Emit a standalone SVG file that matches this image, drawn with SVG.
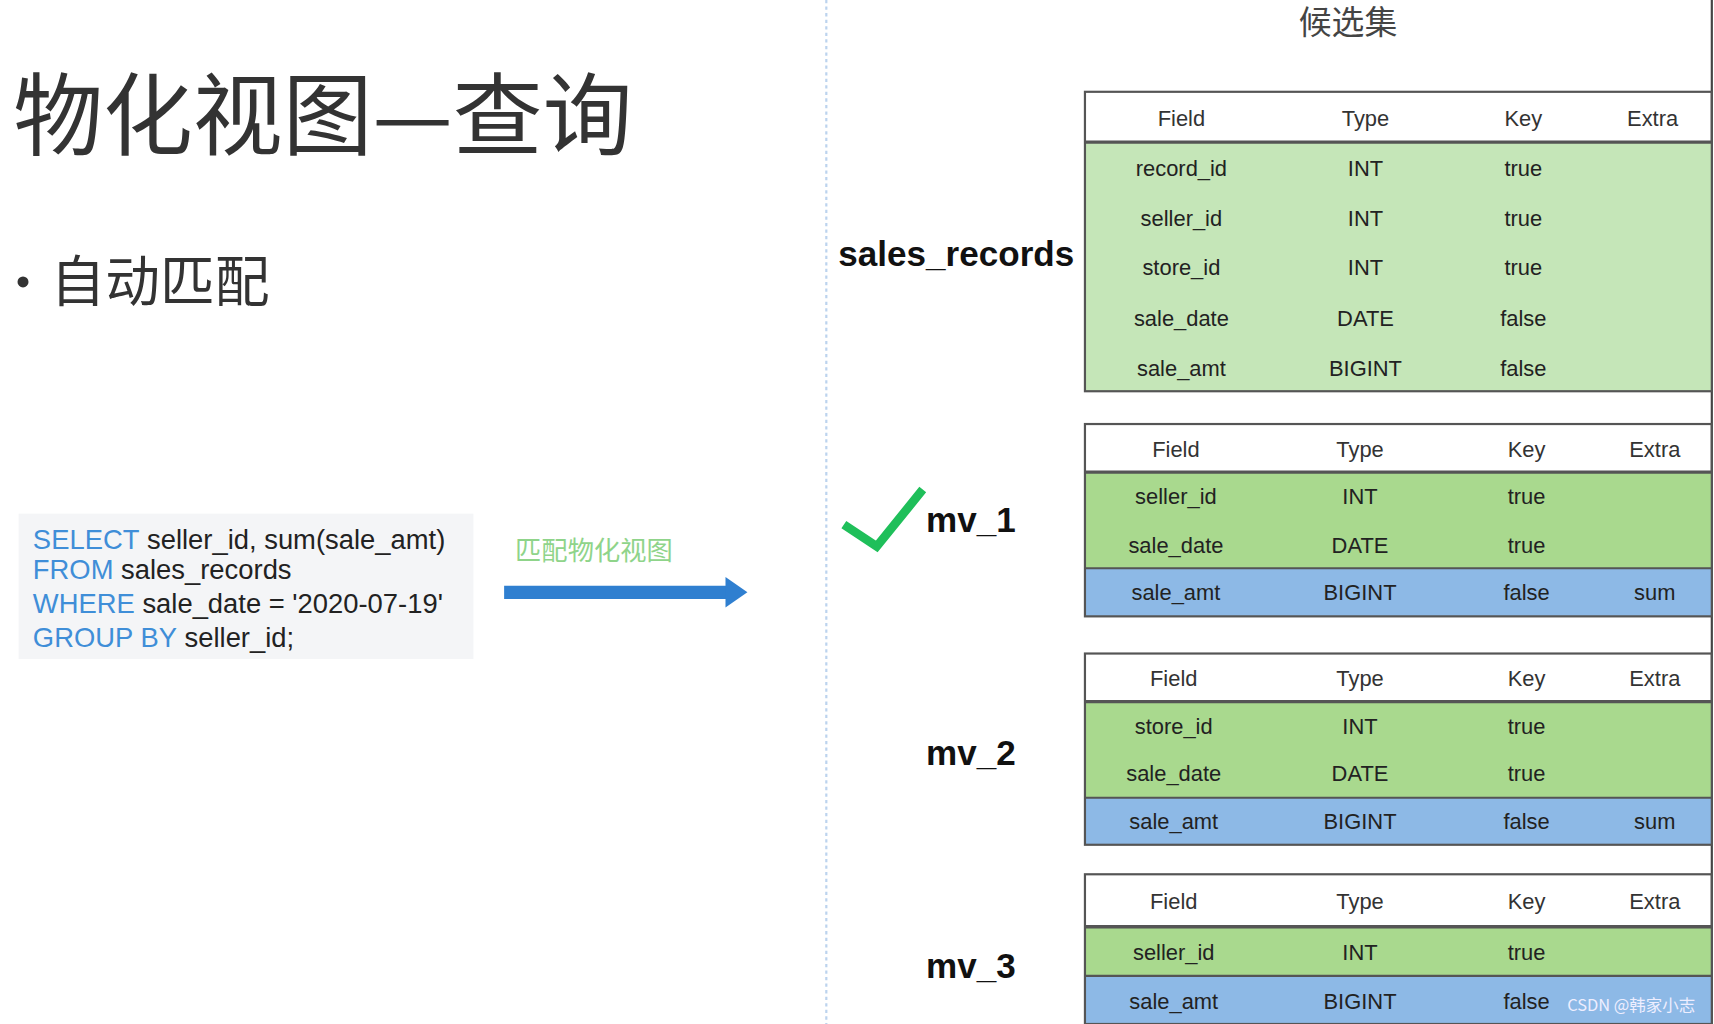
<svg xmlns="http://www.w3.org/2000/svg" width="1714" height="1024" viewBox="0 0 1714 1024">
<style>
.t{font-family:"Liberation Sans",Arial,sans-serif;font-size:20px;fill:#222;text-anchor:middle}
.h{font-family:"Liberation Sans",Arial,sans-serif;font-size:20px;fill:#333;text-anchor:middle}
.lbl{font-family:"Liberation Sans",Arial,sans-serif;font-weight:bold;font-size:32px;fill:#111}
.code{font-family:"Liberation Sans",Arial,sans-serif;font-size:25px;fill:#222}
.kw{fill:#3f8ed8}
.cjk{font-family:"Noto Sans CJK SC",sans-serif}
.bd{fill:none;stroke:#555;stroke-width:2}
</style>
<rect width="1714" height="1024" fill="#fff"/>
<g transform="scale(1.09591 1.09285)">
<g id="title"><text x="12" y="135" class="cjk" font-size="82" fill="#333">物化视图—查询</text></g>
<g id="bullet"><circle cx="21" cy="258" r="5" fill="#333"/><text x="46" y="275" class="cjk" font-size="50" fill="#333">自动匹配</text></g>
<g id="query">
<rect x="17" y="470" width="415" height="133" fill="#f4f5f7"/>
<text x="30" y="502" class="code"><tspan class="kw">SELECT</tspan> seller_id, sum(sale_amt)</text>
<text x="30" y="530" class="code"><tspan class="kw">FROM</tspan> sales_records</text>
<text x="30" y="561" class="code"><tspan class="kw">WHERE</tspan> sale_date = '2020-07-19'</text>
<text x="30" y="592" class="code"><tspan class="kw">GROUP BY</tspan> seller_id;</text>
</g>
<g id="connectors">
<text x="470" y="512" class="cjk" font-size="24" fill="#8fd48a">匹配物化视图</text>
<path d="M460 542 H664" stroke="#2f7fd0" stroke-width="12"/>
<path d="M662 528 L682 542 L662 556 Z" fill="#2f7fd0"/>
</g>
<line x1="754" y1="0" x2="754" y2="937" stroke="#bcd3ee" stroke-width="2" stroke-dasharray="3 3"/>
<line x1="1562" y1="0" x2="1562" y2="937" stroke="#444" stroke-width="2"/>
<g id="candidates"><text x="1230" y="31" class="cjk" font-size="30" fill="#444" text-anchor="middle">候选集</text></g>
<g id="sales_records">
<text x="765" y="243" class="lbl">sales_records</text>
<rect x="990" y="130" width="572" height="228" fill="#c5e6b8"/>
<rect x="990" y="84" width="572" height="274" class="bd"/>
<line x1="990" y1="130" x2="1562" y2="130" stroke="#555" stroke-width="3"/>
<text x="1078" y="115" class="h">Field</text><text x="1246" y="115" class="h">Type</text><text x="1390" y="115" class="h">Key</text><text x="1508" y="115" class="h">Extra</text>
<text x="1078" y="161" class="t">record_id</text><text x="1246" y="161" class="t">INT</text><text x="1390" y="161" class="t">true</text>
<text x="1078" y="207" class="t">seller_id</text><text x="1246" y="207" class="t">INT</text><text x="1390" y="207" class="t">true</text>
<text x="1078" y="252" class="t">store_id</text><text x="1246" y="252" class="t">INT</text><text x="1390" y="252" class="t">true</text>
<text x="1078" y="298" class="t">sale_date</text><text x="1246" y="298" class="t">DATE</text><text x="1390" y="298" class="t">false</text>
<text x="1078" y="344" class="t">sale_amt</text><text x="1246" y="344" class="t">BIGINT</text><text x="1390" y="344" class="t">false</text>
</g>
<g id="mv_1">
<path d="M770 480 L800 500 L842 448" fill="none" stroke="#1fbf5a" stroke-width="8"/>
<text x="845" y="487" class="lbl">mv_1</text>
<rect x="990" y="432" width="572" height="88" fill="#a9d98e"/>
<rect x="990" y="520" width="572" height="44" fill="#8db9e6"/>
<rect x="990" y="388" width="572" height="176" class="bd"/>
<line x1="990" y1="432" x2="1562" y2="432" stroke="#555" stroke-width="3"/>
<line x1="990" y1="520" x2="1562" y2="520" stroke="#555" stroke-width="2"/>
<text x="1073" y="418" class="h">Field</text><text x="1241" y="418" class="h">Type</text><text x="1393" y="418" class="h">Key</text><text x="1510" y="418" class="h">Extra</text>
<text x="1073" y="461" class="t">seller_id</text><text x="1241" y="461" class="t">INT</text><text x="1393" y="461" class="t">true</text>
<text x="1073" y="506" class="t">sale_date</text><text x="1241" y="506" class="t">DATE</text><text x="1393" y="506" class="t">true</text>
<text x="1073" y="549" class="t">sale_amt</text><text x="1241" y="549" class="t">BIGINT</text><text x="1393" y="549" class="t">false</text><text x="1510" y="549" class="t">sum</text>
</g>
<g id="mv_2">
<text x="845" y="700" class="lbl">mv_2</text>
<rect x="990" y="642" width="572" height="88" fill="#a9d98e"/>
<rect x="990" y="730" width="572" height="43" fill="#8db9e6"/>
<rect x="990" y="598" width="572" height="175" class="bd"/>
<line x1="990" y1="642" x2="1562" y2="642" stroke="#555" stroke-width="3"/>
<line x1="990" y1="730" x2="1562" y2="730" stroke="#555" stroke-width="2"/>
<text x="1071" y="628" class="h">Field</text><text x="1241" y="628" class="h">Type</text><text x="1393" y="628" class="h">Key</text><text x="1510" y="628" class="h">Extra</text>
<text x="1071" y="672" class="t">store_id</text><text x="1241" y="672" class="t">INT</text><text x="1393" y="672" class="t">true</text>
<text x="1071" y="715" class="t">sale_date</text><text x="1241" y="715" class="t">DATE</text><text x="1393" y="715" class="t">true</text>
<text x="1071" y="759" class="t">sale_amt</text><text x="1241" y="759" class="t">BIGINT</text><text x="1393" y="759" class="t">false</text><text x="1510" y="759" class="t">sum</text>
</g>
<g id="mv_3">
<text x="845" y="895" class="lbl">mv_3</text>
<rect x="990" y="848" width="572" height="45" fill="#a9d98e"/>
<rect x="990" y="893" width="572" height="44" fill="#8db9e6"/>
<rect x="990" y="800" width="572" height="137" class="bd"/>
<line x1="990" y1="848" x2="1562" y2="848" stroke="#555" stroke-width="3"/>
<line x1="990" y1="893" x2="1562" y2="893" stroke="#555" stroke-width="2"/>
<text x="1071" y="832" class="h">Field</text><text x="1241" y="832" class="h">Type</text><text x="1393" y="832" class="h">Key</text><text x="1510" y="832" class="h">Extra</text>
<text x="1071" y="878" class="t">seller_id</text><text x="1241" y="878" class="t">INT</text><text x="1393" y="878" class="t">true</text>
<text x="1071" y="923" class="t">sale_amt</text><text x="1241" y="923" class="t">BIGINT</text><text x="1393" y="923" class="t">false</text>
</g>
<text x="1430" y="925" class="cjk" font-size="15" fill="#eef">CSDN @韩家小志</text>
</g>
</svg>
